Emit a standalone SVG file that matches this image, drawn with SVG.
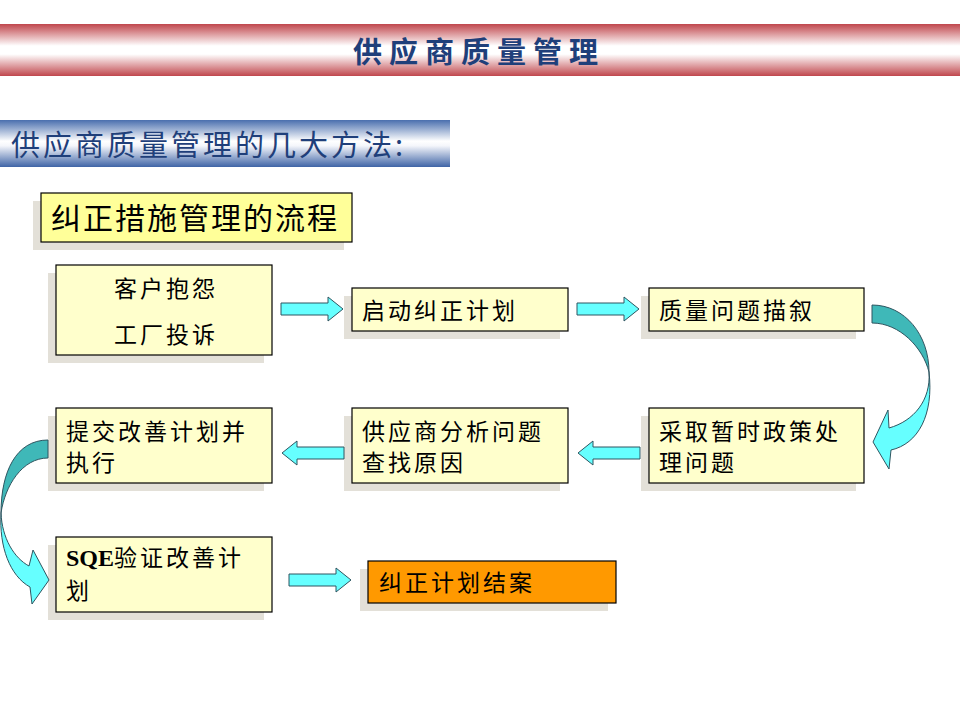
<svg xmlns="http://www.w3.org/2000/svg" width="960" height="720" viewBox="0 0 960 720">
<defs>
<linearGradient id="gRed" x1="0" y1="0" x2="0" y2="1">
<stop offset="0" stop-color="#c0474d"/><stop offset="0.42" stop-color="#ffffff"/><stop offset="0.58" stop-color="#ffffff"/><stop offset="1" stop-color="#c0474d"/>
</linearGradient>
<linearGradient id="gBlue" x1="0" y1="0" x2="0" y2="1">
<stop offset="0" stop-color="#4a6fae"/><stop offset="0.45" stop-color="#ffffff"/><stop offset="0.55" stop-color="#f4f6fb"/><stop offset="1" stop-color="#3f64a6"/>
</linearGradient>
<path id="arR" d="M0,6 H47 V0 L62,12 L47,24 V18 H0 Z"/>
</defs>
<style>
.sh{fill:#e3e0d8}
.bx{fill:#ffffcc;stroke:#000;stroke-width:1.2}
.t{font-family:"Noto Sans CJK SC","Liberation Sans",sans-serif;font-size:23px;fill:#000;letter-spacing:3px}
.ar{fill:#66ffff;stroke:#2f5560;stroke-width:1}
.dk{fill:#3fb8b8;stroke:#2f5560;stroke-width:1}
</style>
<rect x="0" y="24" width="960" height="52" fill="url(#gRed)"/>
<text x="479" y="63" text-anchor="middle" font-family="Noto Sans CJK SC, sans-serif" font-size="29" font-weight="bold" fill="#1f3f7a" letter-spacing="7">供应商质量管理</text>
<rect x="0" y="120" width="450" height="47" fill="url(#gBlue)"/>
<text x="11" y="156" font-family="Noto Sans CJK SC, sans-serif" font-size="29" fill="#1f3f7a" letter-spacing="3">供应商质量管理的几大方法:</text>

<g id="title">
<rect class="sh" x="33" y="201" width="311" height="49"/>
<rect x="41" y="193" width="311" height="49" fill="#ffff99" stroke="#000" stroke-width="1.2"/>
<text x="51" y="229" font-family="Noto Sans CJK SC, sans-serif" font-size="30" fill="#000" letter-spacing="2">纠正措施管理的流程</text>
</g>

<g id="n1">
<rect class="sh" x="48" y="273" width="216" height="90"/>
<rect class="bx" x="56" y="265" width="216" height="90"/>
<text class="t" x="166" y="297" text-anchor="middle">客户抱怨</text>
<text class="t" x="166" y="343" text-anchor="middle">工厂投诉</text>
</g>
<g id="n2">
<rect class="sh" x="344" y="296" width="216" height="43"/>
<rect class="bx" x="352" y="288" width="216" height="43"/>
<text class="t" x="362" y="319">启动纠正计划</text>
</g>
<g id="n3">
<rect class="sh" x="641" y="296" width="215" height="43"/>
<rect class="bx" x="649" y="288" width="215" height="43"/>
<text class="t" x="659" y="319">质量问题描叙</text>
</g>
<g id="n4">
<rect class="sh" x="641" y="416" width="215" height="75"/>
<rect class="bx" x="649" y="408" width="215" height="75"/>
<text class="t" x="659" y="440">采取暂时政策处</text>
<text class="t" x="659" y="471">理问题</text>
</g>
<g id="n5">
<rect class="sh" x="344" y="416" width="216" height="75"/>
<rect class="bx" x="352" y="408" width="216" height="75"/>
<text class="t" x="362" y="440">供应商分析问题</text>
<text class="t" x="362" y="471">查找原因</text>
</g>
<g id="n6">
<rect class="sh" x="48" y="416" width="216" height="75"/>
<rect class="bx" x="56" y="408" width="216" height="75"/>
<text class="t" x="66" y="440">提交改善计划并</text>
<text class="t" x="66" y="471">执行</text>
</g>
<g id="n7">
<rect class="sh" x="48" y="545" width="216" height="75"/>
<rect class="bx" x="56" y="537" width="216" height="75"/>
<text class="t" x="66" y="566"><tspan font-family="Liberation Serif, serif" font-weight="bold" font-size="24" letter-spacing="0">SQE</tspan>验证改善计</text>
<text class="t" x="66" y="599">划</text>
</g>
<g id="n8">
<rect class="sh" x="360" y="569" width="248" height="42"/>
<rect x="368" y="561" width="248" height="42" fill="#ff9900" stroke="#000" stroke-width="1.2"/>
<text class="t" x="379" y="591">纠正计划结案</text>
</g>

<g id="connectors">
<use href="#arR" class="ar" transform="translate(281,297)"/>
<use href="#arR" class="ar" transform="translate(577,297)"/>
<use href="#arR" class="ar" transform="translate(640,465) rotate(180)"/>
<use href="#arR" class="ar" transform="translate(344,465) rotate(180)"/>
<use href="#arR" class="ar" transform="translate(289,568)"/>
<path class="dk" d="M872,305 C905,305 929,335 929,372 C923,348 900,323 872,323 Z"/>
<path class="ar" d="M929,372 C931,400 914,421 889,428 L888,410 L873,442 L889,469 L891,450 C918,444 934,415 929,372 Z"/>
<path class="dk" d="M48,440 C16,440 1,472 1,513 C5,486 22,458 48,458 Z"/>
<path class="ar" d="M1,513 C2,538 14,558 29,566 L33,550 L49,580 L32,604 L30,587 C10,576 -1,547 1,513 Z"/>
</g>
</svg>
